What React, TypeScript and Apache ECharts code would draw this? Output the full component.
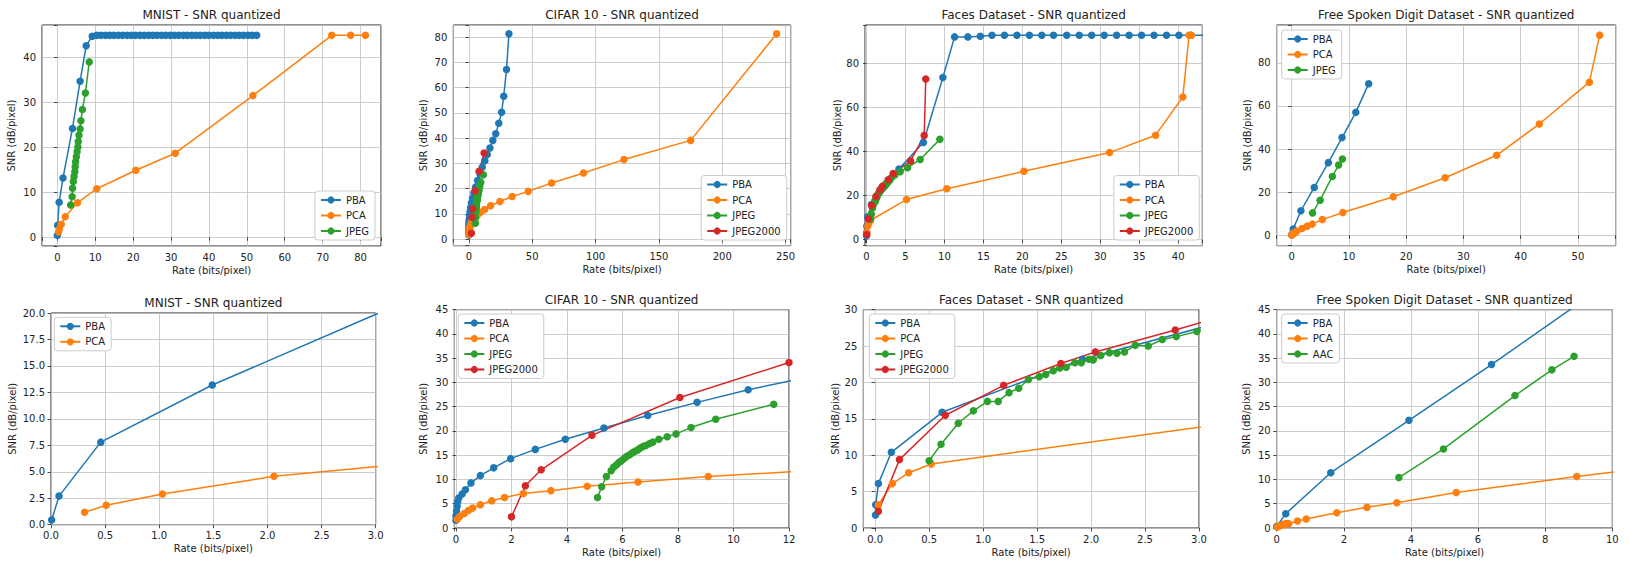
import React, { useEffect, useRef } from 'react';
import * as echarts from 'echarts';

// ---------- data (rate in bits/pixel, SNR in dB/pixel) ----------
const MNIST_PBA = [
  [0.006, 0.44], [0.074, 2.7], [0.46, 7.8], [1.49, 13.2], [3.98, 24.2], [6.0, 34.7], [7.6, 42.6], [9.2, 44.7],
  [10.4, 44.9], [11.5, 44.9], [12.7, 44.9], [13.8, 44.9], [14.9, 44.9], [16.1, 44.9], [17.2, 44.9], [18.4, 44.9],
  [19.5, 44.9], [20.6, 44.9], [21.8, 44.9], [22.9, 44.9], [24.1, 44.9], [25.2, 44.9], [26.3, 44.9], [27.5, 44.9],
  [28.6, 44.9], [29.8, 44.9], [30.9, 44.9], [32.0, 44.9], [33.2, 44.9], [34.3, 44.9], [35.5, 44.9], [36.6, 44.9],
  [37.7, 44.9], [38.9, 44.9], [40.0, 44.9], [41.2, 44.9], [42.3, 44.9], [43.4, 44.9], [44.6, 44.9], [45.7, 44.9],
  [46.9, 44.9], [48.0, 44.9], [49.1, 44.9], [50.3, 44.9], [51.4, 44.9], [52.6, 44.9],
];
const MNIST_PCA = [
  [0.31, 1.17], [0.51, 1.83], [1.03, 2.9], [2.06, 4.57], [5.3, 7.7], [10.4, 10.8], [20.7, 14.9],
  [31.1, 18.7], [51.6, 31.5], [72.4, 44.9], [77.4, 44.9], [81.3, 44.9],
];
const MNIST_JPEG = [
  [3.5, 7.2], [3.9, 9.0], [4.0, 10.9], [4.2, 12.4], [4.4, 13.5], [4.6, 14.6], [4.7, 15.7], [4.8, 16.8],
  [5.0, 17.9], [5.2, 19.0], [5.4, 20.1], [5.5, 21.3], [5.7, 22.7], [6.0, 24.1], [6.2, 25.9], [6.6, 28.4],
  [7.4, 32.1], [8.4, 39.0],
];

const CIFAR_PBA = [
  [0.0, 1.6], [0.0, 2.5], [0.02, 3.5], [0.04, 4.5], [0.06, 5.4], [0.1, 6.2], [0.22, 7.0], [0.34, 7.9],
  [0.54, 9.3], [0.88, 10.8], [1.36, 12.4], [1.97, 14.3], [2.86, 16.2], [3.94, 18.3], [5.33, 20.6],
  [6.91, 23.2], [8.69, 25.9], [10.53, 28.5], [12.6, 31.0], [14.5, 33.5], [16.6, 36.1], [18.9, 39.1],
  [21.2, 41.7], [23.6, 45.9], [25.8, 50.2], [27.5, 56.6], [29.7, 67.2], [31.6, 81.3],
];
const CIFAR_PCA = [
  [0.05, 1.8], [0.14, 2.4], [0.3, 3.0], [0.45, 3.6], [0.6, 4.1], [0.88, 4.8], [1.29, 5.6], [1.75, 6.3],
  [2.43, 7.1], [3.42, 7.7], [4.73, 8.6], [6.56, 9.5], [9.09, 10.6], [12.4, 11.7], [17.1, 13.2], [24.5, 14.9],
  [34.2, 16.9], [46.8, 18.9], [65.3, 22.2], [90.5, 26.2], [122.4, 31.5], [175.0, 39.1], [242.9, 81.3],
];
const CIFAR_JPEG = [
  [5.1, 6.3], [5.25, 8.5], [5.42, 10.6], [5.59, 11.8], [5.68, 12.5], [5.78, 13.0], [5.87, 13.5], [5.97, 13.9],
  [6.07, 14.4], [6.16, 14.8], [6.26, 15.1], [6.36, 15.5], [6.45, 15.8], [6.55, 16.1], [6.64, 16.5], [6.74, 16.8],
  [6.84, 17.0], [6.98, 17.4], [7.09, 17.7], [7.31, 18.3], [7.61, 18.8], [7.93, 19.4], [8.47, 20.7], [9.36, 22.4],
  [11.45, 25.5],
];
const CIFAR_J2K = [[2.0, 2.3], [2.5, 8.7], [3.07, 12.0], [4.9, 19.1], [8.07, 26.9], [12.0, 34.1]];

const FACES_PBA = [
  [0.003, 1.8], [0.005, 3.2], [0.03, 6.1], [0.15, 10.4], [0.62, 15.9], [1.92, 23.2], [4.15, 32.0], [7.3, 44.1],
  [9.8, 73.6], [11.3, 92.0], [13.0, 92.0], [14.6, 92.3], [16.1, 92.75], [17.7, 92.75], [19.3, 92.75],
  [20.9, 92.75], [22.5, 92.75], [24.0, 92.75], [25.7, 92.75], [27.3, 92.75], [28.9, 92.75], [30.5, 92.75],
  [32.1, 92.75], [33.7, 92.75], [35.3, 92.75], [36.9, 92.75], [38.5, 92.75], [40.1, 92.75], [41.6, 92.75],
  [43.2, 92.75],
];
const FACES_PCA = [
  [0.03, 3.2], [0.16, 6.1], [0.31, 7.6], [0.52, 8.8], [5.13, 18.2], [10.3, 23.1], [20.2, 31.0],
  [31.2, 39.5], [37.1, 47.4], [40.6, 64.7], [41.4, 92.75], [41.7, 92.75],
];
const FACES_JPEG = [
  [0.5, 9.25], [0.61, 11.5], [0.77, 14.4], [0.91, 16.1], [1.04, 17.4], [1.14, 17.4], [1.24, 18.6], [1.33, 19.2],
  [1.42, 20.4], [1.52, 20.8], [1.58, 21.1], [1.65, 21.6], [1.71, 22.0], [1.77, 22.1], [1.85, 22.7], [1.91, 22.7],
  [1.98, 23.2], [2.02, 23.1], [2.09, 23.7], [2.17, 24.1], [2.24, 24.0], [2.31, 24.2], [2.41, 25.1], [2.53, 25.0],
  [2.66, 25.9], [2.79, 26.3], [2.98, 27.0], [3.2, 28.2], [3.63, 29.3], [4.32, 30.8], [5.26, 32.6], [6.88, 36.4],
  [9.41, 45.5],
];
const FACES_J2K = [
  [0.03, 2.3], [0.225, 9.4], [0.65, 15.5], [1.19, 19.6], [1.72, 22.6], [2.04, 24.2], [2.78, 27.2],
  [3.42, 30.0], [5.65, 35.7], [7.4, 47.3], [7.6, 72.9],
];

const FSDD_PBA = [[0.0, 0.3], [0.27, 2.95], [1.61, 11.4], [3.94, 22.2], [6.4, 33.7], [8.8, 45.3], [11.2, 57.0], [13.45, 70.3]];
const FSDD_PCA = [
  [0.02, 0.2], [0.08, 0.4], [0.15, 0.6], [0.22, 0.8], [0.3, 0.9], [0.36, 0.9], [0.62, 1.44], [0.88, 1.85],
  [1.79, 3.16], [2.69, 4.26], [3.58, 5.2], [5.35, 7.3], [8.94, 10.6], [17.75, 17.9], [26.8, 26.7], [35.8, 37.1],
  [43.25, 51.6], [52.0, 71.0], [53.8, 92.8],
];
const FSDD_JPEG = [[3.64, 10.4], [4.97, 16.3], [7.1, 27.3], [8.2, 32.6], [8.86, 35.4]];

const TITLES = [
  'MNIST - SNR quantized', 'CIFAR 10 - SNR quantized', 'Faces Dataset - SNR quantized', 'Free Spoken Digit Dataset - SNR quantized',
  'MNIST - SNR quantized', 'CIFAR 10 - SNR quantized', 'Faces Dataset - SNR quantized', 'Free Spoken Digit Dataset - SNR quantized',
];
const X_NAME = 'Rate (bits/pixel)';
const Y_NAME = 'SNR (dB/pixel)';

const COLORS: Record<string, string> = {
  PBA: '#1f77b4', PCA: '#ff7f0e', JPEG: '#2ca02c', AAC: '#2ca02c', JPEG2000: '#d62728',
};

const FONT = 'DejaVu Sans';
const INK = '#222';

type S = { name: string; data: number[][] };
type Panel = {
  grid: number[]; // left, top, width, height
  x: number[]; // min, max, step, decimals
  y: number[];
  titleY: number;
  yGap: number;
  series: S[];
  legend: Record<string, number>;
};

const PANELS: Panel[] = [
  {
    grid: [42, 25, 339, 221], x: [-4.06, 85.4, 10, 0], y: [-1.93, 47.2, 10, 0], titleY: 15.3, yGap: 26,
    series: [{ name: 'PBA', data: MNIST_PBA }, { name: 'PCA', data: MNIST_PCA }, { name: 'JPEG', data: MNIST_JPEG }],
    legend: { right: 1255, bottom: 328 },
  },
  {
    grid: [453.3, 25, 337.4, 220.7], x: [-12.3, 254, 50, 0], y: [-2.6, 84.8, 10, 0], titleY: 15.3, yGap: 25,
    series: [{ name: 'PBA', data: CIFAR_PBA }, { name: 'PCA', data: CIFAR_PCA }, { name: 'JPEG', data: CIFAR_JPEG }, { name: 'JPEG2000', data: CIFAR_J2K }],
    legend: { right: 843.3, bottom: 328 },
  },
  {
    grid: [865, 25, 337.3, 220.7], x: [-0.2, 43.1, 5, 0], y: [-2.75, 97.4, 20, 0], titleY: 15.3, yGap: 23,
    series: [{ name: 'PBA', data: FACES_PBA }, { name: 'PCA', data: FACES_PCA }, { name: 'JPEG', data: FACES_JPEG }, { name: 'JPEG2000', data: FACES_J2K }],
    legend: { right: 430.7, bottom: 328 },
  },
  {
    grid: [1276.7, 25, 339, 220.7], x: [-2.62, 56.6, 10, 0], y: [-4.8, 97.5, 20, 0], titleY: 15.3, yGap: 24,
    series: [{ name: 'PBA', data: FSDD_PBA }, { name: 'PCA', data: FSDD_PCA }, { name: 'JPEG', data: FSDD_JPEG }],
    legend: { left: 1281.7, top: 30 },
  },
  {
    grid: [51, 313, 324.7, 211.7], x: [0, 3, 0.5, 1], y: [0, 20, 2.5, 1], titleY: 303.3, yGap: 34,
    series: [{ name: 'PBA', data: MNIST_PBA }, { name: 'PCA', data: MNIST_PCA }],
    legend: { left: 54.3, top: 317.3 },
  },
  {
    grid: [454.3, 309.7, 334.7, 218.3], x: [-0.06, 12, 2, 0], y: [0, 45, 5, 0], titleY: 299.7, yGap: 26,
    series: [{ name: 'PBA', data: CIFAR_PBA }, { name: 'PCA', data: CIFAR_PCA }, { name: 'JPEG', data: CIFAR_JPEG }, { name: 'JPEG2000', data: CIFAR_J2K }],
    legend: { left: 458.3, top: 314 },
  },
  {
    grid: [863.3, 309.7, 335.7, 218.3], x: [-0.11, 3, 0.5, 1], y: [0, 30, 5, 0], titleY: 299.7, yGap: 22,
    series: [{ name: 'PBA', data: FACES_PBA }, { name: 'PCA', data: FACES_PCA }, { name: 'JPEG', data: FACES_JPEG }, { name: 'JPEG2000', data: FACES_J2K }],
    legend: { left: 869.3, top: 314 },
  },
  {
    grid: [1276.7, 309.7, 335.6, 218.3], x: [0, 10, 2, 0], y: [0, 45, 5, 0], titleY: 299.7, yGap: 25,
    series: [{ name: 'PBA', data: FSDD_PBA }, { name: 'PCA', data: FSDD_PCA }, { name: 'AAC', data: FSDD_JPEG }],
    legend: { left: 1281.7, top: 314 },
  },
];

function makeAxis(spec: number[], gridIndex: number, name: string, nameGap: number, isX: boolean) {
  const [min, max, step, dec] = spec;
  return {
    type: 'value',
    gridIndex,
    min,
    max,
    minInterval: step,
    maxInterval: step,
    splitNumber: Math.round((max - min) / step),
    name,
    nameLocation: 'middle',
    nameGap,
    nameRotate: isX ? 0 : 90,
    nameTextStyle: { fontSize: 10, color: INK, fontFamily: FONT },
    axisLine: { show: false },
    axisTick: { show: true, inside: false, length: 3.5, lineStyle: { color: INK, width: 0.8 } },
    axisLabel: {
      fontSize: 10,
      color: INK,
      fontFamily: FONT,
      margin: 6,
      formatter: (v: number) => {
        const k = v / step;
        if (Math.abs(k - Math.round(k)) > 1e-6) return '';
        return (Math.round(k) * step).toFixed(dec);
      },
    },
    splitLine: { show: true, lineStyle: { color: '#c0c0c0', width: 0.8 } },
  };
}

export default function App() {
  const ref = useRef<HTMLDivElement>(null);
  useEffect(() => {
    if (!ref.current) return;
    const chart = echarts.init(ref.current, undefined, { renderer: 'svg' });

    const grids = PANELS.map((p) => ({
      left: p.grid[0], top: p.grid[1], width: p.grid[2], height: p.grid[3],
      show: true, borderColor: INK, borderWidth: 1, backgroundColor: '#fff', containLabel: false,
    }));
    const xAxes = PANELS.map((p, i) => makeAxis(p.x, i, X_NAME, 19, true));
    const yAxes = PANELS.map((p, i) => makeAxis(p.y, i, Y_NAME, p.yGap, false));
    const series: any[] = [];
    PANELS.forEach((p, i) => {
      p.series.forEach((s) => {
        series.push({
          type: 'line',
          name: s.name,
          data: s.data,
          xAxisIndex: i,
          yAxisIndex: i,
          symbol: 'circle',
          symbolSize: 7.5,
          showSymbol: true,
          clip: true,
          lineStyle: { width: 1.5, color: COLORS[s.name] },
          itemStyle: { color: COLORS[s.name] },
          emphasis: { disabled: true },
          silent: true,
        });
      });
    });
    const legends = PANELS.map((p) => ({
      ...p.legend,
      data: p.series.map((s) => s.name),
      orient: 'vertical',
      itemWidth: 20,
      itemHeight: 9,
      itemGap: 3.5,
      padding: [3, 6, 3, 5],
      backgroundColor: '#fff',
      borderColor: '#ccc',
      borderWidth: 1,
      borderRadius: 3,
      selectedMode: false,
      textStyle: { fontSize: 10, color: INK, fontFamily: FONT, lineHeight: 12 },
    }));
    const titles = PANELS.map((p, i) => ({
      type: 'text',
      x: p.grid[0] + p.grid[2] / 2,
      y: p.titleY,
      style: {
        text: TITLES[i],
        fontSize: 12,
        fontFamily: FONT,
        fill: INK,
        align: 'center',
        verticalAlign: 'middle',
        textAlign: 'center',
        textVerticalAlign: 'middle',
      },
    }));

    chart.setOption({
      animation: false,
      backgroundColor: '#fff',
      textStyle: { fontFamily: FONT },
      grid: grids,
      xAxis: xAxes,
      yAxis: yAxes,
      legend: legends,
      series,
      graphic: titles,
    });
    return () => chart.dispose();
  }, []);
  return (
    <div
      ref={ref}
      style={{ position: 'absolute', left: 0, top: 0, width: 1630, height: 568, background: '#fff' }}
    />
  );
}
